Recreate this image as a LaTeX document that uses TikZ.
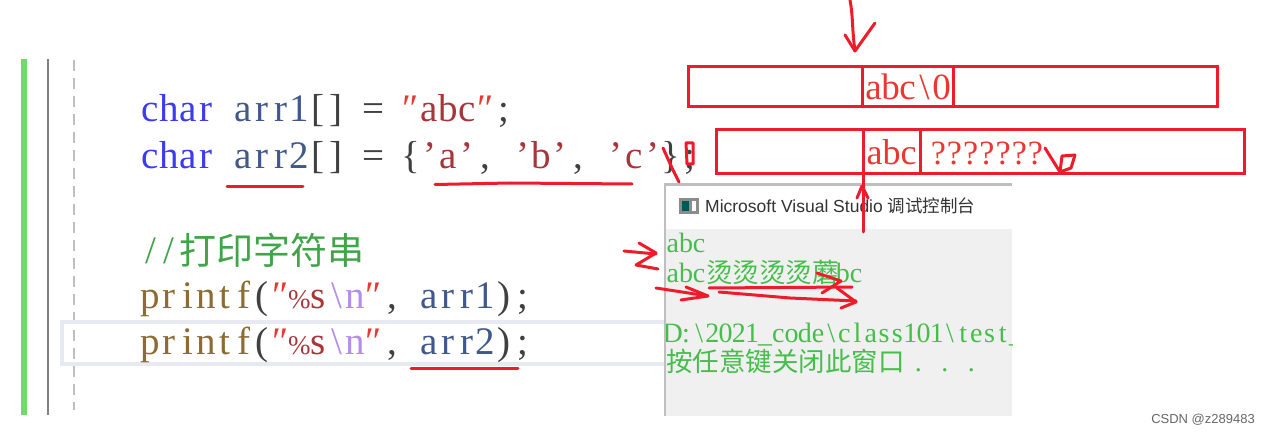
\documentclass[tikz,border=0pt]{standalone}
\usepackage{fontspec}
\setmainfont{Liberation Serif}
\newfontfamily\cjkfont{Noto Sans CJK SC}
\newfontfamily\uifont{Liberation Sans}
\definecolor{kwblue}{HTML}{3B3BF0}
\definecolor{varslate}{HTML}{40598C}
\definecolor{strred}{HTML}{A8353A}
\definecolor{quotered}{HTML}{E8382F}
\definecolor{fnbrown}{HTML}{8C6C32}
\definecolor{escpurple}{HTML}{B58CF0}
\definecolor{cmtgreen}{HTML}{3FA548}
\definecolor{opgray}{HTML}{404040}
\definecolor{barline}{HTML}{6FDC6A}
\definecolor{hiline}{HTML}{E9E9F3}
\definecolor{consgreen}{HTML}{45BE4A}
\definecolor{consback}{HTML}{F0F0F0}
\definecolor{penred}{HTML}{EE1C2B}
\newlength{\monow}
\def\monoloop#1{\ifx#1\relax\else\makebox[\monow]{#1}\expandafter\monoloop\fi}
\newcommand{\mono}[2][18.6pt]{\setlength{\monow}{#1}\monoloop#2\relax}
\newcommand{\pct}{{\fontsize{27}{27}\selectfont\%}}
\tikzset{
    codetext/.style={anchor=base west,inner sep=0pt,font=\fontsize{39}{39}\selectfont},
    constext/.style={anchor=base west,inner sep=0pt,text=consgreen,font=\fontsize{28}{28}\selectfont},
    memcell/.style={draw=penred,line width=3pt,inner sep=0pt,text=quotered},
    pen/.style={draw=penred,line width=3pt,line cap=round,line join=round}
}
\begin{document}
\begin{tikzpicture}[x=1pt,y=-1pt]
    \useasboundingbox (0,0) rectangle (1270,433);

    % Margin bars
    \fill[barline] (21,59) rectangle (27,415);
    \fill[gray] (46.5,59) rectangle (49,415);
    \draw[lightgray,line width=2pt,dash pattern=on 11pt off 7pt] (74,60) -- (74,410);

    % Current line
    \draw[hiline,line width=4pt] (62,322) rectangle (670,364);

    % First line
    \node[codetext,text=kwblue] (charA) at (141,122) {\mono{char}};
    \node[codetext,text=varslate] (arrA) at (234,122) {\mono{arr1}};
    \node[codetext,text=opgray] (brA) at (308.4,122) {\mono{[]}};
    \node[codetext,text=opgray] (eqA) at (364.2,122) {\mono{=}};
    \node[codetext,text=quotered] (qA) at (401.4,122) {\mono{″}};
    \node[codetext,text=strred] (strA) at (420,122) {\mono{abc}};
    \node[codetext,text=quotered] (qB) at (475.8,122) {\mono{″}};
    \node[codetext,text=opgray] (semiA) at (494.4,122) {\mono{;}};

    % Second line
    \node[codetext,text=kwblue] (charB) at (141,168) {\mono{char}};
    \node[codetext,text=varslate] (arrB) at (234,168) {\mono{arr2}};
    \node[codetext,text=opgray] (brB) at (308.4,168) {\mono{[]}};
    \node[codetext,text=opgray] (eqB) at (364.2,168) {\mono{=}};
    \node[codetext,text=opgray] (lbB) at (401.4,168) {\mono{\{}};
    \node[codetext,text=strred] (chA) at (420,168) {\mono{’a’}};
    \node[codetext,text=opgray] (coA) at (475.8,168) {\mono{,}};
    \node[codetext,text=strred] (chB) at (513,168) {\mono{’b’}};
    \node[codetext,text=opgray] (coB) at (568.8,168) {\mono{,}};
    \node[codetext,text=strred] (chC) at (606,168) {\mono{’c’}};
    \node[codetext,text=opgray] (rbB) at (661.8,168) {\mono{\}}};
    \node[codetext,text=opgray] (semiB) at (680.4,168) {\mono{;}};

    % Comment
    \node[codetext,text=cmtgreen] (cmtS) at (141,263) {\mono{//}};
    \node[codetext,text=cmtgreen,font=\fontsize{37}{37}\cjkfont] (cmtT) at (179,264) {打印字符串};

    % Third line
    \node[codetext,text=fnbrown] (fnA) at (141,308) {\mono{printf}};
    \node[codetext,text=opgray] (paA) at (252.6,308) {\mono{(}};
    \node[codetext,text=quotered] (qC) at (271.2,308) {\mono{″}};
    \node[codetext,text=strred] (fmtA) at (289.8,308) {\mono{\pct s}};
    \node[codetext,text=escpurple] (escA) at (327,308) {\mono{{\textbackslash}n}};
    \node[codetext,text=quotered] (qD) at (364.2,308) {\mono{″}};
    \node[codetext,text=opgray] (coC) at (382.8,308) {\mono{,}};
    \node[codetext,text=varslate] (argA) at (420,308) {\mono{arr1}};
    \node[codetext,text=opgray] (endA) at (494.4,308) {\mono{);}};

    % Fourth line
    \node[codetext,text=fnbrown] (fnB) at (141,354) {\mono{printf}};
    \node[codetext,text=opgray] (paB) at (252.6,354) {\mono{(}};
    \node[codetext,text=quotered] (qE) at (271.2,354) {\mono{″}};
    \node[codetext,text=strred] (fmtB) at (289.8,354) {\mono{\pct s}};
    \node[codetext,text=escpurple] (escB) at (327,354) {\mono{{\textbackslash}n}};
    \node[codetext,text=quotered] (qF) at (364.2,354) {\mono{″}};
    \node[codetext,text=opgray] (coD) at (382.8,354) {\mono{,}};
    \node[codetext,text=varslate] (argB) at (420,354) {\mono{arr2}};
    \node[codetext,text=opgray] (endB) at (494.4,354) {\mono{);}};

    % Console window
    \fill[black!25] (664,183) rectangle (1012,416);
    \fill[white] (666,186) rectangle (1012,229);
    \fill[consback] (666,229) rectangle (1012,416);
    \fill[black!45] (679,198) rectangle (699,214);
    \fill[teal!70!black] (682,201) rectangle (689,211);
    \fill[white] (692,201) rectangle (696,211);
    \node[anchor=base west,inner sep=0pt,text=black!80,font=\fontsize{17.5}{18}\uifont] (titleT) at (705,212) {Microsoft Visual Studio \cjkfont 调试控制台};
    \begin{scope}
        \clip (666,229) rectangle (1012,416);
        \node[constext] (outA) at (666,252) {\mono[13.2pt]{abc}};
        \node[constext] (outB) at (666,282) {\mono[13.2pt]{abc}};
        \node[constext,font=\fontsize{26.5}{26.5}\cjkfont] (outC) at (706,282) {烫烫烫烫蘑};
        \node[constext] (outD) at (836,282) {\mono[13.2pt]{bc}};
        \node[constext] (outE) at (666,342) {\mono[13.2pt]{D:{\textbackslash}2021{\_}code{\textbackslash}class101{\textbackslash}test{\_}}};
        \node[constext,font=\fontsize{26.5}{26.5}\cjkfont] (outF) at (666,371) {按任意键关闭此窗口};
        \node[constext] (outG) at (905,371) {\mono[26.5pt]{...}};
    \end{scope}

    % Memory boxes
    \node[memcell,minimum width=529pt,minimum height=40pt] (memA) at (952.5,87) {};
    \node[memcell,minimum width=91pt,minimum height=40pt,font=\fontsize{37}{37}\selectfont] (cellA) at (907.5,87) {\mono[17pt]{abc{\textbackslash}0}};
    \node[memcell,minimum width=528pt,minimum height=44pt] (memB) at (980,152) {};
    \node[memcell,minimum width=57pt,minimum height=44pt,font=\fontsize{36}{36}\selectfont] (cellB) at (891.5,152) {\mono[17pt]{abc}};
    \node[anchor=base west,inner sep=0pt,text=quotered,font=\fontsize{34}{34}\selectfont] (unkT) at (930,165) {\mono[16.2pt]{???????}};

    % Pointer arrows
    \draw[pen] (850,0) .. controls (853,15) and (852,30) .. (855,51);
    \draw[pen] (845,35) -- (855,51) -- (875,23);
    \draw[pen] (863,232) -- (863,174);
    \draw[pen] (857,198) -- (862,186) -- (868,198);

    % Underlines
    \draw[pen] (227,187) -- (303,187);
    \draw[pen] (435,184.5) -- (510,183) -- (632,184);
    \draw[pen] (411,368) -- (518,368);

    % Scribbles at the end of the string
    \draw[pen] (663,148) -- (672,168) -- (679,182);
    \draw[pen] (686,143) -- (693,143) -- (693,164) -- (687,164) -- cycle;
    \draw[pen] (1045,148) -- (1060,172) -- (1062,156) -- (1075,155) -- (1071,168) -- (1060,172);

    % Arrows on the output
    \draw[pen] (624,251) -- (656,254);
    \draw[pen] (639,243) -- (656,253) -- (636,265) -- (658,269);
    \draw[pen] (656,288) -- (708,296);
    \draw[pen] (686,287) -- (708,296) -- (681,300);
    \draw[pen] (709,288) -- (852,287);
    \draw[pen] (817,273) -- (841,281) -- (822,293);
    \draw[pen] (719,292) -- (790,298) -- (856,301);
    \draw[pen] (837,288) -- (856,302) -- (841,308);

    % Watermark
    \node[anchor=base east,inner sep=0pt,text=black!60,font=\fontsize{13}{13}\uifont] (markT) at (1255,423) {CSDN @z289483};
\end{tikzpicture}
\end{document}
